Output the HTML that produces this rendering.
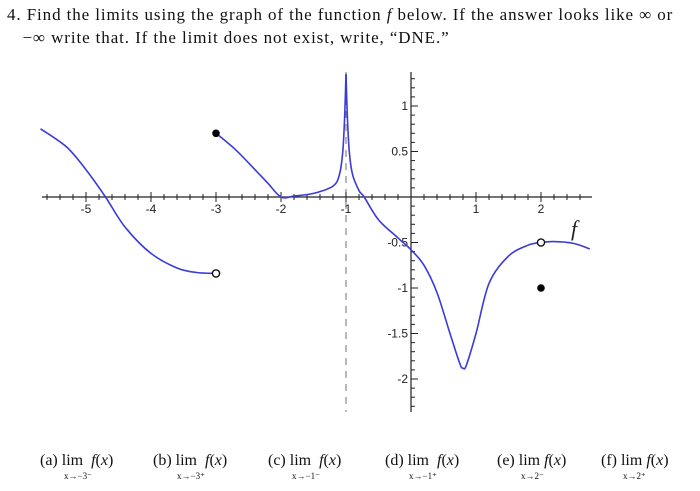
<!DOCTYPE html>
<html><head><meta charset="utf-8"><style>
body{margin:0;width:700px;height:491px;background:#fff;overflow:hidden;font-family:"Liberation Serif",serif;}
#q{position:absolute;left:7px;top:3px;font-size:17px;letter-spacing:0.9px;line-height:23px;color:#111;white-space:nowrap;}
.lim{position:absolute;top:452px;font-size:16px;color:#111;white-space:nowrap;}
.sub{position:absolute;font-size:9px;top:19px;letter-spacing:0;}
svg{position:absolute;left:0;top:0;}
</style></head><body>
<div id="q">4. Find the limits using the graph of the function <i>f</i> below. If the answer looks like ∞ or<br>&nbsp;&nbsp;&nbsp;−∞ write that. If the limit does not exist, write, “DNE.”</div>
<svg id="chart" width="700" height="491"></svg>
<span class="lim" style="left:40px">(a) lim&nbsp; <i>f</i>(<i>x</i>)<span class="sub" style="left:24px">x→−3⁻</span></span>
<span class="lim" style="left:153px">(b) lim&nbsp; <i>f</i>(<i>x</i>)<span class="sub" style="left:24px">x→−3⁺</span></span>
<span class="lim" style="left:268px">(c) lim&nbsp; <i>f</i>(<i>x</i>)<span class="sub" style="left:24px">x→−1⁻</span></span>
<span class="lim" style="left:385px">(d) lim&nbsp; <i>f</i>(<i>x</i>)<span class="sub" style="left:24px">x→−1⁺</span></span>
<span class="lim" style="left:497px">(e) lim <i>f</i>(<i>x</i>)<span class="sub" style="left:24px">x→2⁻</span></span>
<span class="lim" style="left:601px">(f) lim <i>f</i>(<i>x</i>)<span class="sub" style="left:22px">x→2⁺</span></span>
<script>
const xTicks=[-5,-4,-3,-2,-1,1,2];
const yTicks=[1,0.5,-0.5,-1,-1.5,-2];
const seg1X=[-5.7,-5.3,-5,-4.7,-4.4,-4.0,-3.6,-3.3,-3];
const seg1Y=[0.75,0.55,0.3,0,-0.33,-0.62,-0.78,-0.83,-0.84];
const seg2X=[-3,-2.7,-2.4,-2.2,-2,-1.8,-1.5,-1.2,-1.1,-1.05,-1.02,-1.0];
const seg2Y=[0.7,0.52,0.3,0.15,0,0.01,0.04,0.12,0.25,0.5,0.9,1.35];
const seg3X=[-1.0,-0.98,-0.95,-0.9,-0.8,-0.72,-0.5,-0.2,0,0.2,0.4,0.6,0.75,0.8,0.85,1.0,1.2,1.5,1.8,2,2.2,2.5,2.75];
const seg3Y=[1.35,0.9,0.5,0.25,0.07,0,-0.25,-0.45,-0.58,-0.75,-1.05,-1.5,-1.83,-1.88,-1.85,-1.5,-0.95,-0.65,-0.53,-0.5,-0.49,-0.51,-0.57];
const openX=[-3,2], openY=[-0.84,-0.5];
const filledX=[-3,2], filledY=[0.7,-1];
const X0=411,Y0=197,UX=65,UY=91;
const sx=x=>X0+x*UX, sy=y=>Y0-y*UY;
const svg=document.getElementById('chart');
const NS='http://www.w3.org/2000/svg';
function mk(t,a){const e=document.createElementNS(NS,t);for(const k in a)e.setAttribute(k,a[k]);svg.appendChild(e);return e;}
let e;
e=mk('line',{x1:sx(-1),y1:72,x2:sx(-1),y2:412,stroke:'#888','stroke-dasharray':'7,6','stroke-width':1.2});


e=mk('line',{x1:42,y1:Y0,x2:592,y2:Y0,stroke:'#222','stroke-width':1.2});


e=mk('line',{x1:X0,y1:72,x2:X0,y2:412,stroke:'#222','stroke-width':1.2});


for(let i=-28;i<=13;i++){const x=sx(i*0.2);if(x<42||x>592)continue;const big=i%5===0;
 e=mk('line',{x1:x,y1:Y0-(big?5:3),x2:x,y2:Y0+(big?5:3),stroke:'#222','stroke-width':1});
 
 }
for(let i=-23;i<=13;i++){const y=sy(i*0.1);const big=i%5===0;
 e=mk('line',{x1:X0,y1:y,x2:X0+(big?7:4),y2:y,stroke:'#222','stroke-width':1});
 
 }
xTicks.forEach(v=>{e=mk('text',{x:sx(v),y:Y0+16,'text-anchor':'middle','font-family':'Liberation Sans, sans-serif','font-size':12,fill:'#222'});e.textContent=String(v);
 
 });
yTicks.forEach(v=>{e=mk('text',{x:X0-3,y:sy(v)+4,'text-anchor':'end','font-family':'Liberation Sans, sans-serif','font-size':12,fill:'#222'});e.textContent=String(v);
 
 });
function path(xs,ys,name){const P=xs.map((x,i)=>[sx(x),sy(ys[i])]);let d='M'+P[0][0].toFixed(1)+','+P[0][1].toFixed(1);
 for(let i=0;i<P.length-1;i++){const p0=P[Math.max(0,i-1)],p1=P[i],p2=P[i+1],p3=P[Math.min(P.length-1,i+2)];
  const c1=[p1[0]+(p2[0]-p0[0])/6,p1[1]+(p2[1]-p0[1])/6],c2=[p2[0]-(p3[0]-p1[0])/6,p2[1]-(p3[1]-p1[1])/6];
  d+='C'+c1.map(v=>v.toFixed(1)).join(',')+' '+c2.map(v=>v.toFixed(1)).join(',')+' '+p2.map(v=>v.toFixed(1)).join(',');}
 e=mk('path',{d:d,fill:'none',stroke:'#3b3bd6','stroke-width':1.6,'stroke-linejoin':'round'});
 
 }
path(seg1X,seg1Y,'curve-segment-1');
path(seg2X,seg2Y,'curve-segment-2');
path(seg3X,seg3Y,'curve-segment-3');
openX.forEach((x,i)=>{e=mk('circle',{cx:sx(x),cy:sy(openY[i]),r:3.6,fill:'#fff',stroke:'#111','stroke-width':1.4});
 
 });
filledX.forEach((x,i)=>{e=mk('circle',{cx:sx(x),cy:sy(filledY[i]),r:3.8,fill:'#000'});
 
 });
e=mk('text',{x:571,y:236,'font-family':'Liberation Serif, serif','font-style':'italic','font-size':22,fill:'#222'});e.textContent='f';


</script>
</body></html>
